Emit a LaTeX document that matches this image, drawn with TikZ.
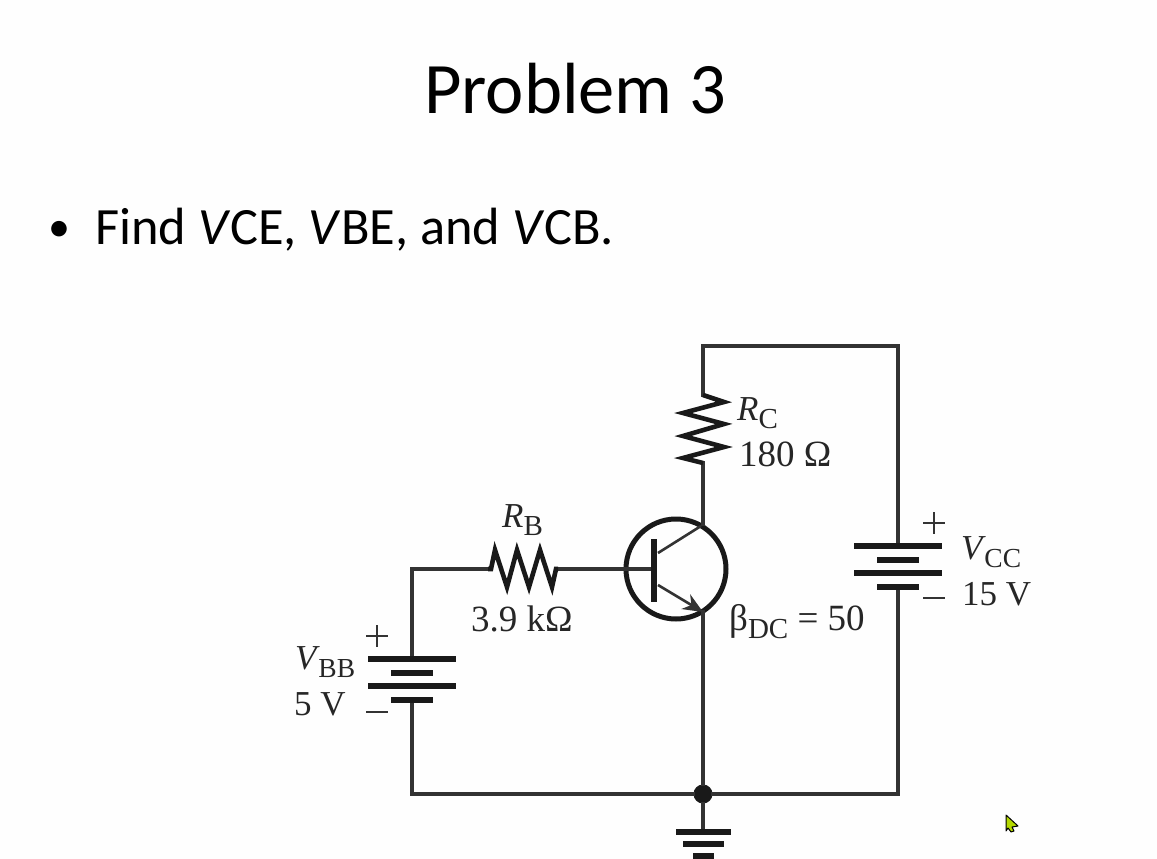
\documentclass[tikz,border=0pt]{standalone}
\usepackage{fontspec}
\setmainfont{Liberation Serif}
\newfontfamily\slidefont{Carlito}
\usetikzlibrary{arrows.meta}
\definecolor{ink}{HTML}{333333}
\definecolor{cursorlime}{HTML}{B4D800}
\tikzset{
  wire/.style={draw=ink,line width=3.1pt,line cap=rect,line join=miter},
  thinwire/.style={draw=ink,line width=2.6pt},
  plate/.style={draw=black!90,line width=5.2pt},
  zig/.style={draw=black!90,line width=4.6pt,line join=miter},
  ring/.style={draw=black!90,line width=5pt},
  signline/.style={draw=ink,line width=2.9pt},
  lbl/.style={inner sep=0pt,text=black!85,font=\fontsize{35}{35}\selectfont,anchor=base west},
  lblw/.style={lbl,font=\fontsize{37}{37}\selectfont},
  slide/.style={inner sep=0pt,text=black,anchor=base west},
}
\newcommand{\subt}[1]{\raisebox{-8pt}{\fontsize{29}{29}\selectfont #1}}
\newcommand{\subv}[1]{\kern-1.5pt\raisebox{-8pt}{\fontsize{27.5}{27.5}\selectfont #1}}
\begin{document}
\begin{tikzpicture}[x=1pt,y=-1pt]
\useasboundingbox[fill={rgb,255:red,254;green,254;blue,254}] (0,0) rectangle (1157,859);
% slide text
\node[slide,font=\slidefont\fontsize{72.5}{72.5}\selectfont] (title) at (424,113.5) {Problem 3};
\node[slide,font=\slidefont\fontsize{44}{44}\selectfont] (bul) at (48,241) {•};
\node[slide,font=\slidefont\fontsize{52.4}{52.4}\selectfont] (task) at (95,244) {Find \textit{V}CE, \textit{V}BE, and \textit{V}CB.};
% key points
\coordinate (tl) at (703,346);
\coordinate (tr) at (898,346);
\coordinate (rct) at (703,395);
\coordinate (rcb) at (703,463);
\coordinate (cw) at (703,524);
\coordinate (ew) at (703,612);
\coordinate (bl) at (412,794);
\coordinate (br) at (898,794);
\coordinate (c1) at (412,569);
\coordinate (rbl) at (488,569);
\coordinate (rbr) at (558,569);
\coordinate (bas) at (654,569);
\coordinate (vbbt) at (412,659);
\coordinate (vbbb) at (412,700);
\coordinate (vcct) at (898,546);
\coordinate (vccb) at (898,587);
\coordinate (gt) at (703,832);
\node[circle,fill=black!90,inner sep=0pt,minimum size=19pt] (dot) at (703,794) {};
\node[circle,ring,inner sep=0pt,minimum size=100pt] (q) at (676,569) {};
\coordinate (cin) at (658,553);
\coordinate (cout) at (701,526);
\coordinate (ein) at (658,585);
\coordinate (eout) at (703,612);
% wires
\draw[wire] (rct) -- (tl) -- (tr) -- (vcct);
\draw[wire] (vccb) -- (br) -- (dot) -- (bl) -- (vbbb);
\draw[wire] (vbbt) -- (c1) -- (rbl);
\draw[wire] (rbr) -- (bas);
\draw[wire] (rcb) -- (cw);
\draw[wire] (ew) -- (dot) -- (gt);
% resistors
\draw[zig] (rct) -- (724,402) -- (683,413) -- (724,424) -- (683,436) -- (724,447) -- (683,458) -- (rcb);
\draw[zig] (rbl) -- (491,569) -- (495,550) -- (507,587) -- (517,550) -- (529,587) -- (540,550) -- (552,587) -- (556,569) -- (rbr);
% transistor
\draw[line width=5.5pt,draw=black!90] (654,539) -- (654,602);
\draw[thinwire] (cin) -- (cout);
\draw[thinwire,-{Stealth[length=20pt,width=17pt]}] (ein) -- (eout);
% batteries
\foreach \x/\y in {412/659,412/686,898/546,898/573}{\draw[plate] (\x-44,\y) -- (\x+44,\y);}
\foreach \x/\y in {412/673,412/700,898/560,898/587}{\draw[plate] (\x-21,\y) -- (\x+21,\y);}
% ground
\draw[plate] (676,832) -- (731,832);
\draw[plate] (683,844) -- (724,844);
\draw[plate] (693,856) -- (714,856);
% labels
\node[lbl] (lrc) at (737,420) {\textit{R}\subt{C}};
\node[lblw] (lrcv) at (739,466) {180 Ω};
\node[lbl] (lrb) at (502,527) {\textit{R}\subt{B}};
\node[lblw] (lrbv) at (471,631) {3.9 kΩ};
\node[lblw] (lbeta) at (729,630) {β\subt{DC} = 50};
\node[lbl] (lvcc) at (961,559) {\textit{V}\subv{CC}};
\node[lbl] (lvccv) at (962,605) {15 V};
\node[lbl] (lvbb) at (295,669) {\textit{V}\subv{BB}};
\node[lbl] (lvbbv) at (294,715) {5 V};
% signs
\draw[signline] (923,523) -- (945,523) (934,512) -- (934,534);
\draw[signline] (923,598) -- (945,598);
\draw[signline] (366,636) -- (388,636) (377,625) -- (377,647);
\draw[signline] (366,712) -- (388,712);
% cursor
\draw[draw=black,fill=cursorlime,line width=1pt,line join=round] (1006,815) -- (1018,826) -- (1012,827) -- (1014,831) -- (1011,832) -- (1008,828) -- (1006,831) -- cycle;
\end{tikzpicture}
\end{document}
